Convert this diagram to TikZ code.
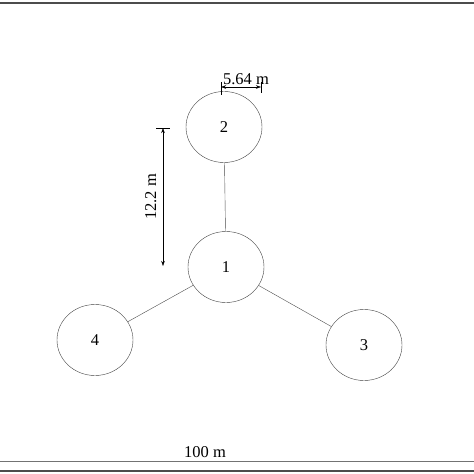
\documentclass[tikz,border=0pt]{standalone}
\usepackage{fontspec}
\setmainfont{Liberation Serif}
\usetikzlibrary{shapes.geometric,arrows.meta}

\tikzstyle{tank}=[draw,ellipse,minimum width=76pt,minimum height=71pt,
    inner sep=0pt,thin,color=black!75,text=black]
\tikzstyle{pipe}=[thin,color=black!70]
\tikzstyle{dimension}=[thin,{Stealth[length=5pt,width=3.5pt]}-{Stealth[length=5pt,width=3.5pt]}]
\tikzstyle{tick}=[thin]
\tikzstyle{border}=[line width=1.8pt,color=black!70]
\tikzstyle{sizetext}=[font=\fontsize{16.5}{18}\selectfont]
\newcommand{\tank}[2]{
    \node[tank,sizetext] at (#1) (tank#2) {#2};
}

\begin{document}
\begin{tikzpicture}[x=1pt,y=-1pt]
    \useasboundingbox (0,0) rectangle (474,474);
    % frame
    \draw[border] (0,3) -- (474,3);
    \draw[border] (0,471) -- (474,471);
    \draw[thin,color=black!55] (0,461) -- (474,461);
    %
    \tank{224,127}{2}
    \tank{226,267}{1}
    \tank{95,340}{4}
    \tank{364,345}{3}
    %
    \draw[pipe] (tank2) -- (tank1);
    \draw[pipe] (tank1) -- (tank4);
    \draw[pipe] (tank1) -- (tank3);
    %
    \coordinate (wl) at (221,87);
    \coordinate (wr) at (261,87);
    \draw[tick] (221,82) -- (221,95);
    \draw[tick] (261,82) -- (261,93);
    \draw[dimension] (wl) -- (wr);
    \node[sizetext,anchor=base] at (246,84) (wlabel) {5.64 m};
    %
    \coordinate (ht) at (163,128);
    \coordinate (hb) at (163,266);
    \draw[tick] (156,128) -- (170,128);
    \draw[dimension] (ht) -- (hb) node[midway,xshift=-3pt,rotate=90,anchor=south,sizetext] (hlabel) {12.2 m};
    %
    \node[sizetext] at (205,452) (width) {100 m};
\end{tikzpicture}
\end{document}
